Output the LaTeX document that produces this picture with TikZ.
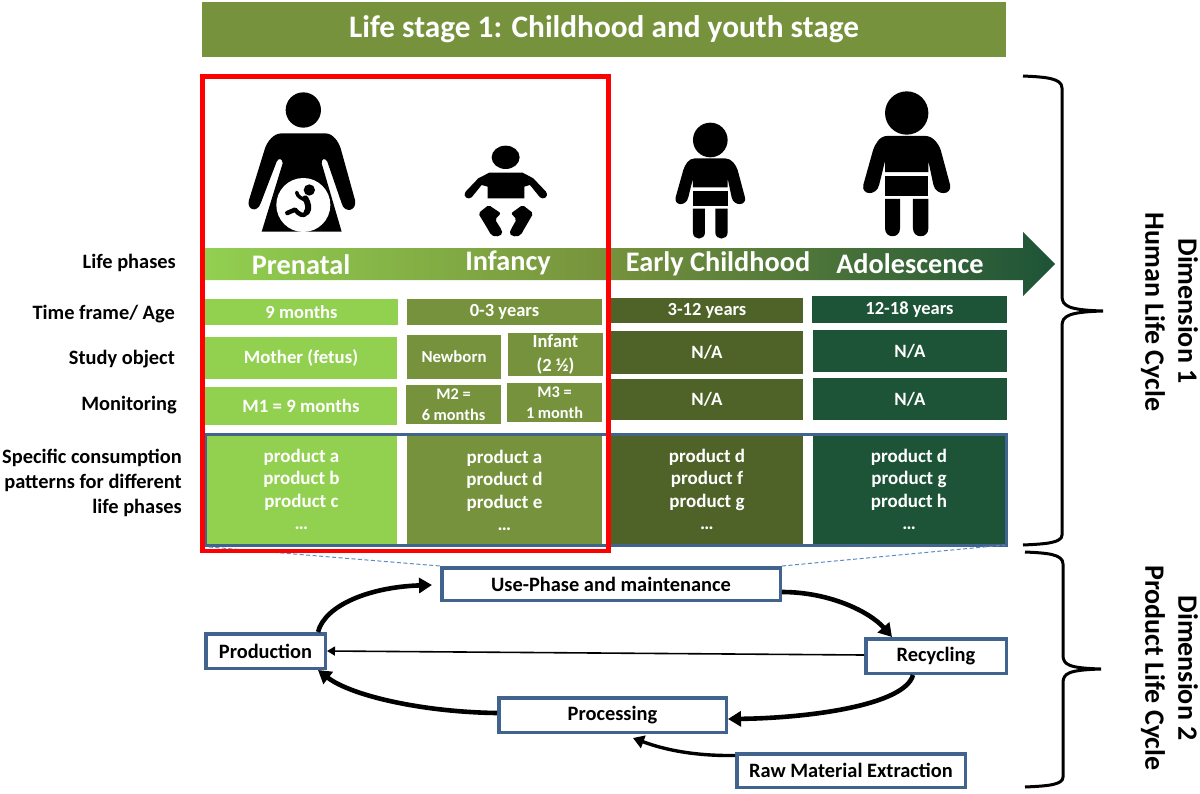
\documentclass[tikz,border=0pt]{standalone}
\usepackage{fontspec}
\setmainfont{Carlito}
\usetikzlibrary{arrows.meta}
\definecolor{cA}{HTML}{92D050}
\definecolor{cB}{HTML}{76923C}
\definecolor{cC}{HTML}{4F6228}
\definecolor{cD}{HTML}{1D5337}
\definecolor{frameblue}{HTML}{41648F}
\definecolor{dashblue}{HTML}{5B8BC8}
\pgfdeclarehorizontalshading{lifearrow}{100bp}{color(0bp)=(cA); color(25bp)=(cA); color(48.7bp)=(cB); color(75bp)=(cD); color(100bp)=(cD)}
\tikzset{
  cellstyle/.style={inner sep=0pt,outer sep=0pt,text=white,align=center},
  sidelabel/.style={inner sep=0pt,anchor=east,align=right,text=black,font=\fontsize{20.4}{25}\selectfont\bfseries},
  phase/.style={inner sep=0pt,text=white,font=\fontsize{28.3}{32}\selectfont\bfseries},
  flowbox/.style={draw=frameblue,line width=3.5pt,fill=white,inner sep=0pt,text=black,font=\fontsize{20.4}{24}\selectfont\bfseries},
  flowthick/.style={draw=black,line width=4.6pt,-{Triangle[length=13pt,width=15pt]}},
  flowmid/.style={draw=black,line width=3.4pt,-{Triangle[length=11pt,width=13pt]}},
  flowthin/.style={draw=black,line width=1.6pt,-{Triangle[length=8pt,width=9pt]}},
  bracestyle/.style={draw=black,line width=3pt},
  dimlabel/.style={inner sep=0pt,rotate=-90,text=black,font=\fontsize{28}{32}\selectfont\bfseries},
  linkdash/.style={draw=dashblue,line width=1pt,dash pattern=on 4pt off 2.5pt}
}
\newcommand{\cellbox}[8]{%
  \pgfmathsetmacro\cbx{(#2+#4)/2}\pgfmathsetmacro\cby{(#3+#5)/2}%
  \pgfmathsetmacro\cbw{#4-#2}\pgfmathsetmacro\cbh{#5-#3}%
  \node[cellstyle,fill=#6,minimum width=\cbw pt,minimum height=\cbh pt,font=\fontsize#7\selectfont\bfseries] (#1) at (\cbx,\cby) {#8};}
\newcommand{\flowbox}[6]{%
  \pgfmathsetmacro\cbx{(#2+#4)/2}\pgfmathsetmacro\cby{(#3+#5)/2}%
  \pgfmathsetmacro\cbw{#4-#2-3.5}\pgfmathsetmacro\cbh{#5-#3-3.5}%
  \node[flowbox,minimum width=\cbw pt,minimum height=\cbh pt] (#1) at (\cbx,\cby) {#6};}
\newcommand{\lowered}[2]{\raisebox{-#1pt}{#2}}
% person icon: origin at head centre
\newcommand{\personicon}[3]{%
\begin{scope}[shift={(#1,#2)},x=#3pt,y=-#3pt]
  \fill[black] (0,0) circle[radius=52];
  \fill[black] (-46,55) -- (44,55) .. controls (64,55) and (77,75) .. (82,90) -- (104,172)
    .. controls (110,198) and (70,200) .. (64,172) -- (52,115) -- (52,142) -- (-52,142) -- (-52,115) -- (-66,172)
    .. controls (-72,200) and (-110,198) .. (-104,172) -- (-81,90) .. controls (-76,75) and (-66,55) .. (-46,55) -- cycle;
  \fill[black] (-52,152) rectangle (52,198);
  \fill[black] (-52,206) -- (-52,277) .. controls (-52,302) and (-16,302) .. (-16,277) -- (-16,206) -- cycle;
  \fill[black] (15,206) -- (15,277) .. controls (15,302) and (52,302) .. (52,277) -- (52,206) -- cycle;
\end{scope}}
\begin{document}
\begin{tikzpicture}[x=1pt,y=-1pt]
\useasboundingbox (0,0) rectangle (1200,793);
% title
\cellbox{title}{202}{2}{1006}{57}{cB}{{31.3}{36}}{\lowered{2}{Life stage 1: Childhood and youth stage}}
% pregnant woman
\begin{scope}[shift={(240,85)},x=0.3333pt,y=-0.3333pt]
  \fill[black] (190,75) circle[radius=53];
  \fill[black] (125,145) -- (255,145) .. controls (280,145) and (295,170) .. (302,190) -- (345,345)
    .. controls (352,380) and (312,385) .. (305,355) -- (262,230) .. controls (256,218) and (244,220) .. (245,235)
    -- (305,440) -- (65,440) -- (128,235) .. controls (128,220) and (115,218) .. (110,230) -- (62,355)
    .. controls (52,385) and (18,375) .. (27,345) -- (75,190) .. controls (82,170) and (100,145) .. (125,145) -- cycle;
  \fill[white] (190,360) circle[radius=81];
  \fill[black] (208,315) circle[radius=17];
  \draw[black,line width=3.5pt,line cap=round,line join=round] (170,322) .. controls (172,335) and (185,340) .. (195,345);
  \draw[black,line width=6pt,line cap=round,line join=round] (196,340) .. controls (205,355) and (208,372) .. (200,382);
  \draw[black,line width=4.5pt,line cap=round,line join=round] (200,382) .. controls (192,398) and (176,388) .. (165,374) -- (142,384);
\end{scope}
% baby
\begin{scope}[shift={(200,70)},x=0.3333pt,y=-0.3333pt]
  \fill[black] (917,262) ellipse[x radius=42,y radius=35];
  \fill[black] (868,308) -- (968,308) -- (1000,325) -- (1038,365) .. controls (1048,382) and (1030,390) .. (1020,382)
     -- (990,345) -- (973,350) -- (973,385) -- (863,385) -- (863,350) -- (845,345) -- (815,382)
     .. controls (805,390) and (787,382) .. (797,365) -- (835,325) -- cycle;
  \fill[black,rounded corners=2pt] (866,405) -- (903,430) -- (885,448) -- (905,480) .. controls (910,500) and (878,505) .. (868,485) -- (835,430) -- cycle;
  \fill[black,rounded corners=2pt] (968,405) -- (1000,430) -- (968,485) .. controls (958,505) and (925,500) .. (932,480) -- (950,448) -- (933,430) -- cycle;
\end{scope}
\personicon{710.3}{140}{0.3333}
\personicon{906.7}{113}{0.4167}
% phase arrow
\shade[shading=lifearrow] (205,248) -- (1023,248) -- (1023,232) -- (1055,264) -- (1023,296) -- (1023,280) -- (205,280) -- cycle;
\node[phase] (prenatal) at (301,265) {Prenatal};
\node[phase] (infancy) at (508,263) {Infancy};
\node[phase] (early) at (718,264) {Early Childhood};
\node[phase] (adol) at (910,264) {Adolescence};
% left labels
\node[sidelabel] (lblphase) at (176,263) {Life phases};
\node[sidelabel] (lbltime) at (175,314) {Time frame/ Age};
\node[sidelabel] (lblstudy) at (175,359) {Study object};
\node[sidelabel] (lblmon) at (177,405) {Monitoring};
\node[sidelabel] (lblspec) at (182,483) {Specific consumption\\patterns for different\\life phases};
% rows
\cellbox{t1}{205}{299}{398}{325}{cA}{{18.5}{20}}{\lowered{1}{9 months}}
\cellbox{t2}{407}{299}{602}{325}{cB}{{18.5}{20}}{\lowered{1.5}{0-3 years}}
\cellbox{t3}{611}{298}{803}{323}{cC}{{18.5}{20}}{\lowered{1.5}{3-12 years}}
\cellbox{t4}{812}{296}{1007}{323}{cD}{{18.5}{20}}{\lowered{1}{12-18 years}}
\cellbox{s1}{205}{337}{397}{379}{cA}{{18.8}{20}}{\lowered{1}{Mother (fetus)}}
\cellbox{s2a}{407}{335}{501}{379}{cB}{{16.8}{20}}{Newborn}
\cellbox{s2b}{508}{333}{603}{376}{cB}{{18.5}{24}}{Infant\\(2 ½)}
\cellbox{s3}{611}{331}{803}{374}{cC}{{18.8}{20}}{\lowered{1}{N/A}}
\cellbox{s4}{813}{330}{1007}{372}{cD}{{18.8}{20}}{N/A}
\cellbox{m1}{205}{387}{397}{425}{cA}{{18.8}{20}}{M1 = 9 months}
\cellbox{m2a}{406}{385}{501}{424}{cB}{{16.3}{21}}{M2 =\\6 months}
\cellbox{m2b}{507}{383}{602}{422}{cB}{{16.3}{21}}{M3 =\\1 month}
\cellbox{m3}{611}{379}{803}{420}{cC}{{18.8}{20}}{\lowered{1}{N/A}}
\cellbox{m4}{813}{378}{1007}{420}{cD}{{18.8}{20}}{\lowered{1}{N/A}}
\cellbox{p1}{206}{435}{397}{544}{cA}{{19}{22.5}}{product a\\product b\\product c\\…}
\cellbox{p2}{407}{435}{602}{546}{cB}{{19}{22.5}}{product a\\product d\\product e\\…}
\cellbox{p3}{611}{435}{803}{544}{cC}{{19}{22.5}}{product d\\product f\\product g\\…}
\cellbox{p4}{813}{435}{1005}{544}{cD}{{19}{22.5}}{product d\\product g\\product h\\…}
% frames
\draw[frameblue,line width=3pt] ([xshift=-1pt,yshift=1pt]p1.north west) rectangle ([xshift=1pt,yshift=-1pt]p4.south east);
% flow boxes
\flowbox{usebox}{440}{566}{782}{602}{Use-Phase and maintenance}
\flowbox{prodbox}{204}{632}{327}{670}{Production}
\flowbox{recbox}{864}{637}{1008}{675}{Recycling}
\flowbox{procbox}{497}{696}{728}{734}{Processing}
\flowbox{rawbox}{735}{752}{967}{789}{Raw Material Extraction}
\draw[linkdash] ([xshift=3pt,yshift=-3pt]p1.south west) -- (usebox.north west);
\draw[linkdash] (usebox.north east) -- ([yshift=-1pt]p4.south east);
\draw[red,line width=4.5pt] (202.5,76.5) rectangle (608.5,551);
% flow
\draw[flowthick] ([xshift=-9pt]prodbox.north east) .. controls (325,605) and (370,587) .. ([xshift=-8pt,yshift=-1pt]usebox.west);
\draw[flowthick] ([yshift=-8pt]usebox.east) .. controls (830,592) and (870,612) .. ([xshift=28pt]recbox.north west);
\draw[flowthick] ([xshift=49pt]recbox.south west) .. controls (905,705) and (810,718) .. ([yshift=-4pt]procbox.east);
\draw[flowthick] ([yshift=2pt]procbox.west) .. controls (420,712) and (350,695) .. ([xshift=-9pt]prodbox.south east);
\draw[flowmid] ([yshift=15pt]rawbox.west) .. controls (695,756) and (665,750) .. ([xshift=136pt,yshift=-4pt]procbox.south west);
\draw[flowthin] ([yshift=1pt]recbox.west) -- (prodbox.east);
% braces
\draw[bracestyle] (1023,76) .. controls (1045,77) and (1062,78) .. (1062,88) -- (1062,296) .. controls (1062,306) and (1068,310) .. (1103,311) .. controls (1068,312) and (1062,316) .. (1062,326) -- (1062,535) .. controls (1062,543) and (1045,544) .. (1023,545);
\draw[bracestyle] (1025,552) .. controls (1047,553) and (1063,554) .. (1063,564) -- (1063,655) .. controls (1063,665) and (1069,668) .. (1101,669) .. controls (1069,670) and (1063,673) .. (1063,683) -- (1063,777) .. controls (1063,785) and (1047,786) .. (1025,787);
\node[dimlabel] (dim1a) at (1188,311) {Dimension 1};
\node[dimlabel] (dim1b) at (1153,312) {Human Life Cycle};
\node[dimlabel] (dim2a) at (1188,668) {Dimension 2};
\node[dimlabel] (dim2b) at (1153,668) {Product Life Cycle};
\end{tikzpicture}
\end{document}
